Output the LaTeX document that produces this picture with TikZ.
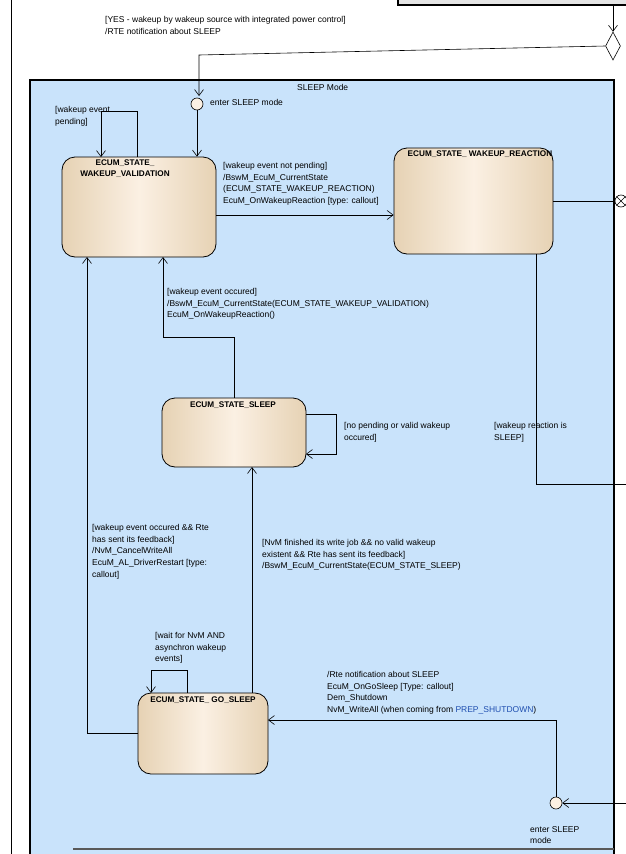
\documentclass[tikz,border=0pt]{standalone}
\usepackage{fontspec}
\setmainfont{Liberation Sans}
\usetikzlibrary{shapes.geometric,arrows.meta}
\definecolor{bluebg}{HTML}{C9E3FB}
\definecolor{tanE}{HTML}{E6D2B4}
\definecolor{tanM}{HTML}{FBF0E3}
\definecolor{boxgray}{HTML}{E4E4E4}
\definecolor{prepblue}{HTML}{1F4FB0}
\begin{document}
\begin{tikzpicture}[x=1pt,y=-1pt,
 txt/.style={font=\fontsize{8.5}{11.7}\selectfont,align=left,anchor=north west,inner sep=0pt},
 state/.style={draw=black,line width=0.8pt,rounded corners=13pt,left color=tanE,right color=tanE,middle color=tanM,shading angle=90,minimum width=#1},
 st/.style={font=\bfseries\fontsize{8.2}{11}\selectfont,align=center,anchor=north,inner sep=0pt},
 init/.style={circle,draw=black,line width=0.6pt,fill=tanM,minimum size=12pt,inner sep=0pt},
 ar/.style={-{Straight Barb[length=6pt,width=9pt]},line width=0.6pt},
 ln/.style={line width=0.6pt}]
\useasboundingbox (0,0) rectangle (626,854);
% outer frames
\draw[ln] (11,0) -- (11,854);
\filldraw[fill=boxgray,draw=black,line width=2pt] (398,-10) rectangle (640,5);
\fill[bluebg] (30,80) rectangle (614,860);
\draw[line width=2.2pt] (30,860) -- (30,80) -- (614,80) -- (614,860);
\node[txt] at (297,84) {SLEEP Mode};
\draw[line width=1.5pt,gray!70!black] (73,849) -- (614,849);
% decision
\node[diamond,draw=black,line width=0.6pt,fill=white,minimum width=15pt,minimum height=28pt,inner sep=0pt] (dec) at (613,46) {};
\coordinate (topin) at (613,6);
\draw[ar] (topin) -- (dec.north);
\node[txt] at (105,16) {[YES - wakeup by wakeup source with integrated power control]\\/RTE notification about SLEEP};
% initial pseudo states
\node[init] (i1) at (197,104) {};
\node[txt] at (210,99) {enter SLEEP mode};
\node[init] (i2) at (556,803) {};
\node[txt] at (530,826) {enter SLEEP\\mode};
% exit
\node[circle,draw=black,line width=0.6pt,fill=white,minimum size=12pt,inner sep=0pt] (ex) at (621,201) {};
\draw[ln] (ex.north west) -- (ex.south east) (ex.north east) -- (ex.south west);
% states
\node[state=154pt,minimum height=100pt] (wv) at (139,207) {};
\node[st] at (125,160) {ECUM\_STATE\_\\WAKEUP\_VALIDATION};
\node[state=159pt,minimum height=106pt] (wr) at (473.5,201) {};
\node[st] at (480,151) {ECUM\_STATE\_ WAKEUP\_REACTION};
\node[state=144pt,minimum height=69pt] (sl) at (234,432.5) {};
\node[st] at (233,402) {ECUM\_STATE\_SLEEP};
\node[state=130pt,minimum height=81pt] (gs) at (203,733.5) {};
\node[st] at (203,697) {ECUM\_STATE\_ GO\_SLEEP};
% connectors
\draw[ar] (dec.west) -- (199,55) -- (199,96);
\draw[ar] (i1.south) -- (i1.south |- wv.north);
\draw[ar] (137,157) -- (137,111) -- (101,111) -- (101,157);
\node[txt] at (55,106) {[wakeup event\\pending]};
\draw[ar] (wv.east |- 0,215) -- (wr.west |- 0,215);
\node[txt] at (223,162) {[wakeup event not pending]\\/BswM\_EcuM\_CurrentState\\(ECUM\_STATE\_WAKEUP\_REACTION)\\EcuM\_OnWakeupReaction [type: callout]};
\draw[ln] (wr.east |- ex.west) -- (ex.west);
\coordinate (rout) at (626,484);
\draw[ln] (536,254) -- (536,484) -- (rout);
\node[txt] at (494,422) {[wakeup reaction is\\SLEEP]};
\draw[ar] (sl.north) -- (234,337) -- (163,337) -- (163,257);
\node[txt] at (167,288) {[wakeup event occured]\\/BswM\_EcuM\_CurrentState(ECUM\_STATE\_WAKEUP\_VALIDATION)\\EcuM\_OnWakeupReaction()};
\draw[ar] (306,414) -- (336,414) -- (336,454) -- (306,454);
\node[txt] at (344,422) {[no pending or valid wakeup\\occured]};
\draw[ar] (252,693) -- (252,467);
\node[txt] at (262,539) {[NvM finished its write job \&\& no valid wakeup\\existent \&\& Rte has sent its feedback]\\/BswM\_EcuM\_CurrentState(ECUM\_STATE\_SLEEP)};
\draw[ar] (138,733) -- (87,733) -- (87,257);
\node[txt] at (92,524) {[wakeup event occured \&\& Rte\\has sent its feedback]\\/NvM\_CancelWriteAll\\EcuM\_AL\_DriverRestart [type:\\callout]};
\draw[ar] (187,693) -- (187,670) -- (151,670) -- (151,693);
\node[txt] at (155,632) {[wait for NvM AND\\asynchron wakeup\\events]};
\draw[ar] (i2.north) -- (556,720) -- (268,720);
\node[txt] at (327,671) {/Rte notification about SLEEP\\EcuM\_OnGoSleep [Type: callout]\\Dem\_Shutdown\\NvM\_WriteAll (when coming from \textcolor{prepblue}{PREP\_SHUTDOWN})};
\coordinate (bin) at (626,803);
\draw[ar] (bin) -- (i2.east);
\end{tikzpicture}
\end{document}
